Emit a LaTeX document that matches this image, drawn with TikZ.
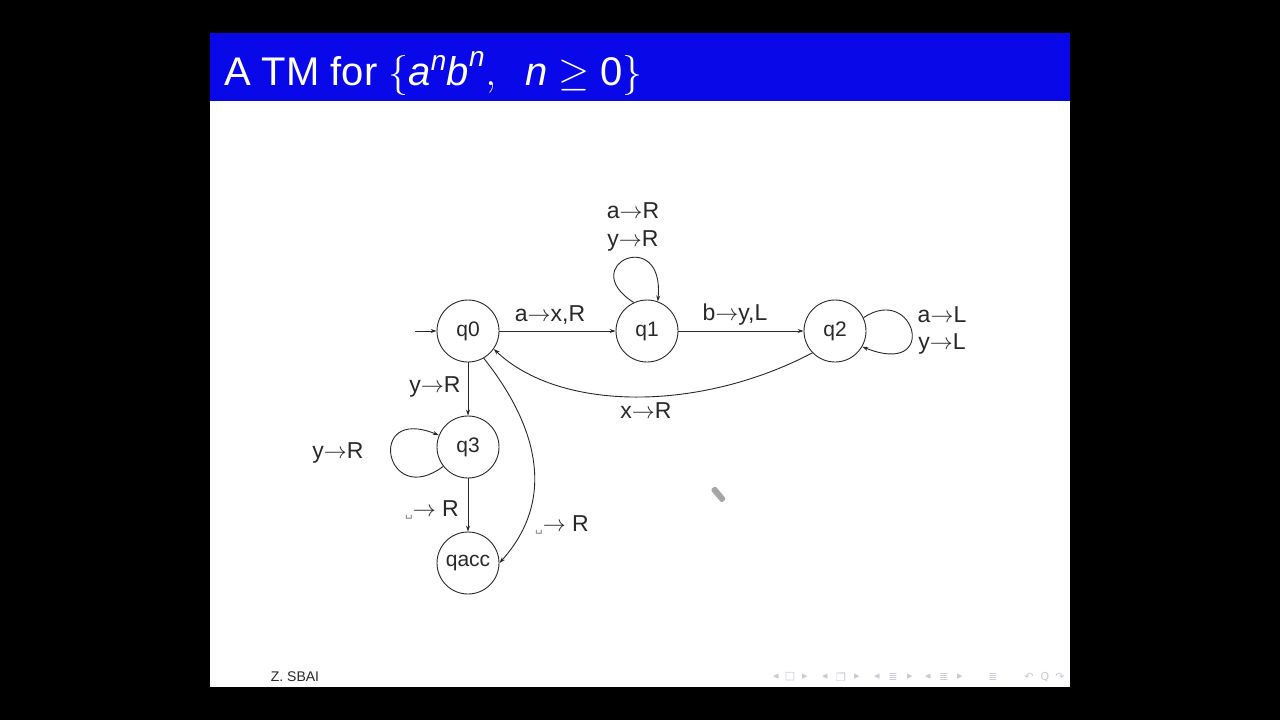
\RequirePackage{fix-cm}
\documentclass[tikz,border=0pt]{standalone}
\usepackage{amsmath}
\usepackage{fontspec}
\setmainfont{Liberation Sans}
\newfontfamily\djv{DejaVu Sans}
\usetikzlibrary{arrows.meta}
\definecolor{titleblue}{RGB}{8,8,232}
\definecolor{ink}{RGB}{40,40,40}
\definecolor{navgray}{RGB}{200,200,215}
\tikzset{
  state/.style={circle,draw=ink,line width=0.9pt,minimum size=62pt,inner sep=0pt,
    font=\fontsize{21}{24}\selectfont,text=ink},
  edge/.style={draw=ink,line width=0.9pt,-{Stealth[length=6pt,width=4pt]}},
  lbl/.style={font=\fontsize{23}{26}\selectfont,text=ink,inner sep=0pt},
  nav/.style={font=\djv\fontsize{11}{12}\selectfont,text=navgray,inner sep=0pt}
}
\newcommand{\blank}{{\djv\fontsize{12}{12}\selectfont\textcolor{gray}{␣}}}
\begin{document}
\begin{tikzpicture}[x=1pt,y=-1pt]
\useasboundingbox (0,0) rectangle (1280,720);
\fill[black] (0,0) rectangle (1280,720);
\fill[white] (210,33) rectangle (1070,687);
\fill[titleblue] (210,33) rectangle (1070,101);
\node[anchor=base west,text=white,inner sep=0pt,font=\fontsize{40}{44}\selectfont] (title) at (224,85)
  {A TM for $\{\textit{a}^{\textit{n}}\textit{b}^{\textit{n}},\ \;\textit{n} \geq \text{0}\}$};

% states
\node[state] (q0) at (468,331) {q0};
\node[state] (q1) at (647,331) {q1};
\node[state] (q2) at (835,331) {q2};
\node[state] (q3) at (468,447) {q3};
\node[state] (qacc) at (468,563) {qacc};
\coordinate (start) at (415,331);

% edges
\draw[edge] (start) -- (q0);
\draw[edge] (q0) -- (q1);
\draw[edge] (q1) -- (q2);
\draw[edge] (q0) -- (q3);
\draw[edge] (q3) -- (qacc);
\draw[edge] (q1.115) .. controls (575,265) and (665,225) .. (q1.70);
\draw[edge] (q2.25) .. controls (915,283) and (940,378) .. (q2.-30);
\draw[edge] (q3.-142) .. controls (385,510) and (365,405) .. (q3.158);
\draw[edge] (q2.-136) .. controls (700,412) and (560,412) .. (q0.-35);
\draw[edge] (q0.-60) .. controls (525,410) and (565,490) .. (qacc.0);

% labels
\node[lbl] (l1a) at (633,211) {a$\rightarrow$R};
\node[lbl] (l1b) at (633,241) {y$\rightarrow$R};
\node[lbl] (l01) at (550,315) {a$\rightarrow$x,R};
\node[lbl] (l12) at (735,315) {b$\rightarrow$y,L};
\node[lbl] (l2a) at (942,315) {a$\rightarrow$L};
\node[lbl] (l2b) at (942,344) {y$\rightarrow$L};
\node[lbl] (l20) at (646,411) {x$\rightarrow$R};
\node[lbl] (l03) at (435,387) {y$\rightarrow$R};
\node[lbl] (l33) at (338,453) {y$\rightarrow$R};
\node[lbl] (l3a) at (432,510) {\blank$\rightarrow$ R};
\node[lbl] (l0a) at (562,525) {\blank$\rightarrow$ R};

% footer
\node[inner sep=0pt,text=ink,font=\fontsize{14}{16}\selectfont] (author) at (295,677) {Z. SBAI};
\node[nav] (n1) at (776,677) {◂};
\node[nav] (n2) at (790,677) {□};
\node[nav] (n3) at (805,677) {▸};
\node[nav] (n4) at (825,677) {◂};
\node[nav] (n5) at (841,677) {❐};
\node[nav] (n6) at (857,677) {▸};
\node[nav] (n7) at (877,677) {◂};
\node[nav] (n8) at (893,677) {≣};
\node[nav] (n9) at (910,677) {▸};
\node[nav] (n10) at (928,677) {◂};
\node[nav] (n11) at (944,677) {≣};
\node[nav] (n12) at (960,677) {▸};
\node[nav] (n13) at (993,677) {≣};
\node[nav] (n14) at (1029,677) {↶};
\node[nav] (n15) at (1045,677) {Q};
\node[nav] (n16) at (1060,677) {↷};

% cursor
\fill[gray!70,rotate around={-50:(718,494)},rounded corners=1.5pt] (710,491) rectangle (727,497);
\end{tikzpicture}
\end{document}
